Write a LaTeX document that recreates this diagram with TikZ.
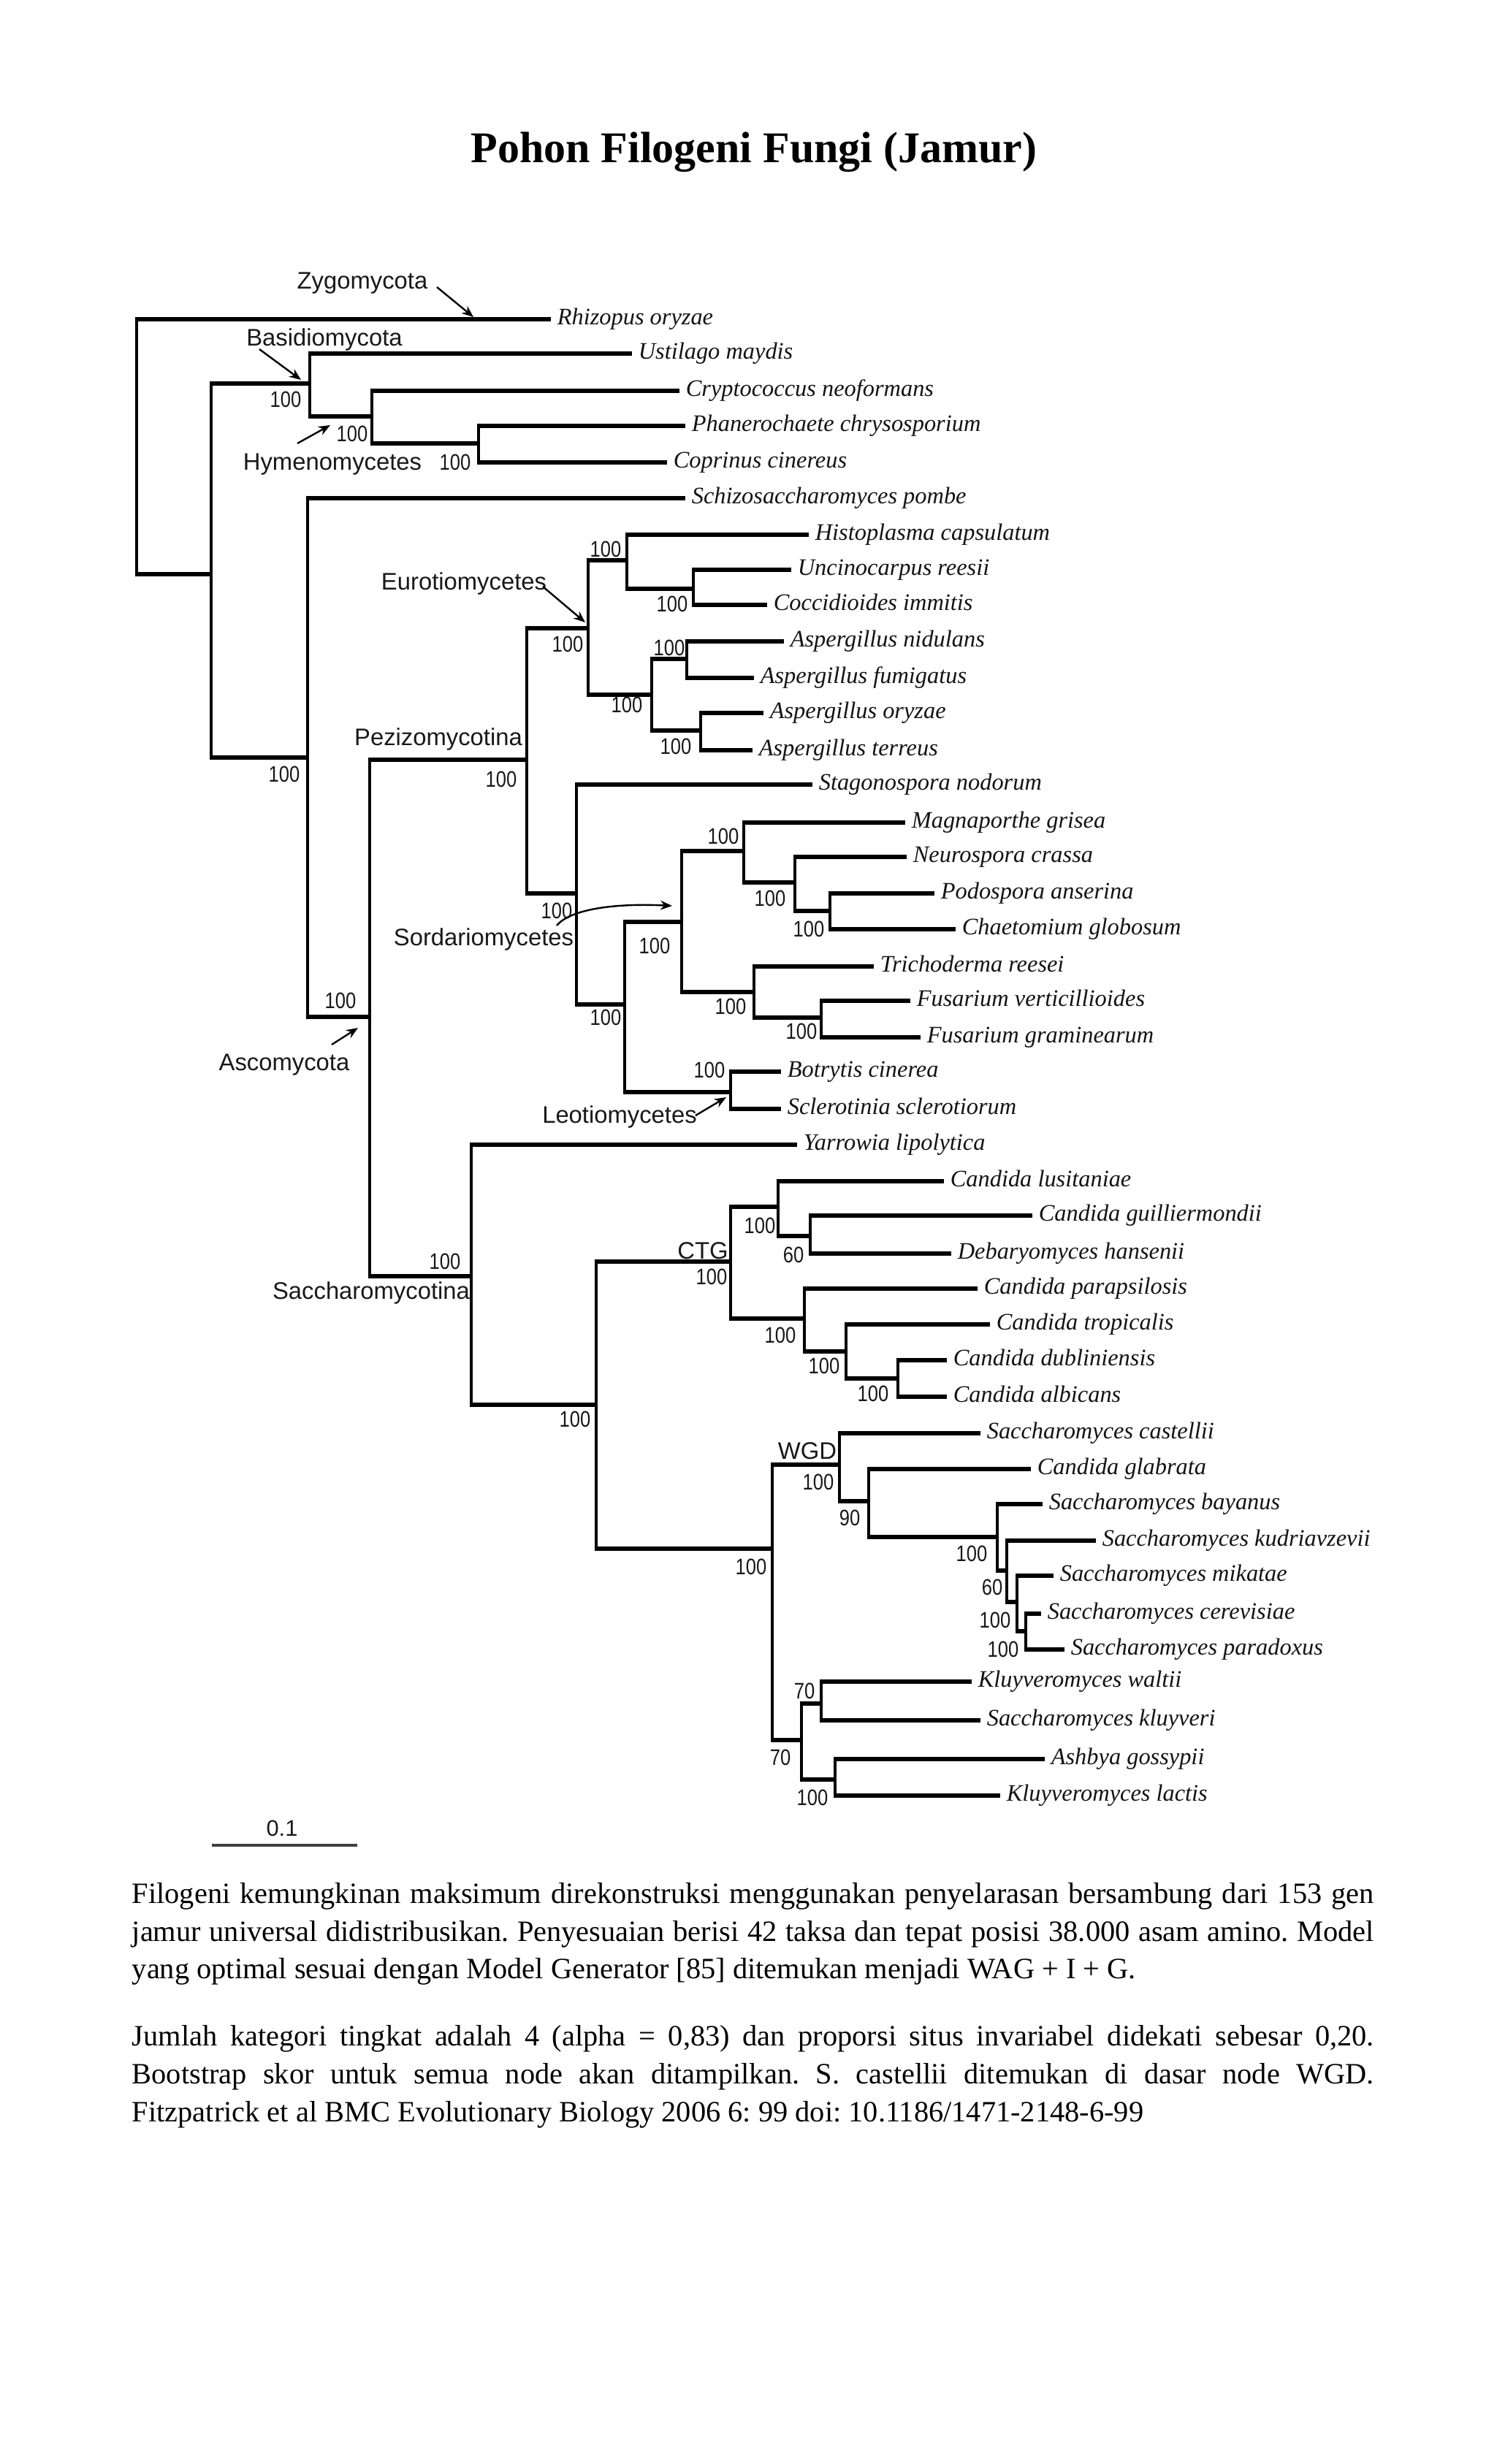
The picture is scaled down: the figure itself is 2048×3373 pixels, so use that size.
\documentclass[tikz,border=0pt]{standalone}
\usepackage{fontspec}
\usepackage{graphicx}
\setmainfont{Liberation Serif}
\setsansfont{Liberation Sans}
\usetikzlibrary{arrows.meta}
\frenchspacing
\newcommand{\bsv}[1]{\scalebox{0.83}[1]{#1}}
\newcommand{\cladeJ}[3]{%
  \draw[vline] (#1 |- #2) -- (#1 |- #3);
  \draw[hline] (#1 |- #2) -- (#2);
  \draw[hline] (#1 |- #3) -- (#3);}
\begin{document}
\begin{tikzpicture}[x=0.25pt,y=-0.25pt,
  hline/.style={line width=1.35pt, shorten <=-0.42pt},
  vline/.style={line width=0.85pt, shorten <=-0.67pt, shorten >=-0.67pt},
  leaf/.style={anchor=west, inner xsep=2pt, inner ysep=0pt, text=black!92,
    font=\fontsize{8.1}{9}\selectfont\itshape, text height=6pt, text depth=2.5pt},
  boot/.style={inner sep=0pt, text=black!90, font=\fontsize{7.7}{8}\selectfont\sffamily},
  clade/.style={inner sep=0pt, anchor=base, text=black!90, font=\fontsize{8.2}{9}\selectfont\sffamily},
  pointer/.style={line width=0.6pt, -{Stealth[length=4pt,width=3.2pt]}},
  captext/.style={anchor=base west, inner sep=0pt, font=\fontsize{10.1}{13}\selectfont},
]
\useasboundingbox (0,0) rectangle (2048,3373);
\fill[white] (0,0) rectangle (2048,3373);

% title
\node[anchor=base, inner sep=0pt, font=\fontsize{15}{18}\selectfont\bfseries] (title) at (1032,222) {Pohon Filogeni Fungi (Jamur)};

% internal nodes
\coordinate (R) at (187,611);
\coordinate (A) at (289,786);
\coordinate (Ba) at (424,525);
\coordinate (Hy) at (509,570);
\coordinate (Hy2) at (655,607);
\coordinate (B) at (421,1037);
\coordinate (C) at (506,1392);
\coordinate (D) at (721,1040);
\coordinate (E) at (805,860);
\coordinate (E1) at (858,767);
\coordinate (E11) at (949,806);
\coordinate (E2) at (892,951);
\coordinate (E21) at (940,902);
\coordinate (E22) at (959,1000);
\coordinate (F) at (789,1223);
\coordinate (G) at (855,1375);
\coordinate (H) at (933,1262);
\coordinate (H1) at (1018,1165);
\coordinate (H11) at (1088,1208);
\coordinate (H111) at (1136,1247);
\coordinate (H2) at (1032,1358);
\coordinate (H21) at (1124,1393);
\coordinate (L) at (1000,1495);
\coordinate (Sa) at (645,1747);
\coordinate (S) at (816,1923);
\coordinate (CTG) at (1000,1727);
\coordinate (C1) at (1065,1652);
\coordinate (C11) at (1109,1692);
\coordinate (C2) at (1101,1805);
\coordinate (C21) at (1158,1850);
\coordinate (C211) at (1229,1887);
\coordinate (W0) at (1057,2120);
\coordinate (WG) at (1149,2005);
\coordinate (W1) at (1189,2055);
\coordinate (W2) at (1365,2104);
\coordinate (W3) at (1378,2150);
\coordinate (W4) at (1392,2193);
\coordinate (W5) at (1404,2233);
\coordinate (K) at (1097,2382);
\coordinate (K1) at (1124,2332);
\coordinate (K2) at (1143,2436);

% leaves
\node[leaf] (lro) at (754,437) {Rhizopus oryzae};
\node[leaf] (lum) at (865,484) {Ustilago maydis};
\node[leaf] (lcn) at (930,535) {Cryptococcus neoformans};
\node[leaf] (lpc) at (938,583) {Phanerochaete chrysosporium};
\node[leaf] (lcc) at (913,633) {Coprinus cinereus};
\node[leaf] (lsp) at (938,682) {Schizosaccharomyces pombe};
\node[leaf] (lhc) at (1107,732) {Histoplasma capsulatum};
\node[leaf] (lur) at (1083,780) {Uncinocarpus reesii};
\node[leaf] (lci) at (1050,828) {Coccidioides immitis};
\node[leaf] (lan) at (1073,878) {Aspergillus nidulans};
\node[leaf] (laf) at (1032,928) {Aspergillus fumigatus};
\node[leaf] (lao) at (1045,976) {Aspergillus oryzae};
\node[leaf] (lat) at (1030,1027) {Aspergillus terreus};
\node[leaf] (lsn) at (1112,1074) {Stagonospora nodorum};
\node[leaf] (lmg) at (1239,1126) {Magnaporthe grisea};
\node[leaf] (lnc) at (1241,1173) {Neurospora crassa};
\node[leaf] (lpa) at (1279,1223) {Podospora anserina};
\node[leaf] (lcg) at (1308,1272) {Chaetomium globosum};
\node[leaf] (ltr) at (1196,1323) {Trichoderma reesei};
\node[leaf] (lfv) at (1246,1370) {Fusarium verticillioides};
\node[leaf] (lfg) at (1260,1420) {Fusarium graminearum};
\node[leaf] (lbc) at (1069,1467) {Botrytis cinerea};
\node[leaf] (lss) at (1069,1518) {Sclerotinia sclerotiorum};
\node[leaf] (lyl) at (1091,1567) {Yarrowia lipolytica};
\node[leaf] (lcl) at (1292,1617) {Candida lusitaniae};
\node[leaf] (lcgu) at (1413,1664) {Candida guilliermondii};
\node[leaf] (ldh) at (1302,1716) {Debaryomyces hansenii};
\node[leaf] (lcp) at (1338,1764) {Candida parapsilosis};
\node[leaf] (lct) at (1355,1813) {Candida tropicalis};
\node[leaf] (lcd) at (1296,1862) {Candida dubliniensis};
\node[leaf] (lca) at (1296,1912) {Candida albicans};
\node[leaf] (lsc) at (1342,1962) {Saccharomyces castellii};
\node[leaf] (lcgl) at (1411,2011) {Candida glabrata};
\node[leaf] (lsb) at (1427,2059) {Saccharomyces bayanus};
\node[leaf] (lsk) at (1500,2109) {Saccharomyces kudriavzevii};
\node[leaf] (lsm) at (1442,2157) {Saccharomyces mikatae};
\node[leaf] (lsce) at (1425,2209) {Saccharomyces cerevisiae};
\node[leaf] (lspa) at (1457,2258) {Saccharomyces paradoxus};
\node[leaf] (lkw) at (1330,2302) {Kluyveromyces waltii};
\node[leaf] (lskl) at (1342,2355) {Saccharomyces kluyveri};
\node[leaf] (lag) at (1430,2408) {Ashbya gossypii};
\node[leaf] (lkl) at (1369,2458) {Kluyveromyces lactis};

% branches
\cladeJ{R}{lro.west}{A}
\cladeJ{A}{Ba}{B}
\cladeJ{Ba}{lum.west}{Hy}
\cladeJ{Hy}{lcn.west}{Hy2}
\cladeJ{Hy2}{lpc.west}{lcc.west}
\cladeJ{B}{lsp.west}{C}
\cladeJ{C}{D}{Sa}
\cladeJ{D}{E}{F}
\cladeJ{E}{E1}{E2}
\cladeJ{E1}{lhc.west}{E11}
\cladeJ{E11}{lur.west}{lci.west}
\cladeJ{E2}{E21}{E22}
\cladeJ{E21}{lan.west}{laf.west}
\cladeJ{E22}{lao.west}{lat.west}
\cladeJ{F}{lsn.west}{G}
\cladeJ{G}{H}{L}
\cladeJ{H}{H1}{H2}
\cladeJ{H1}{lmg.west}{H11}
\cladeJ{H11}{lnc.west}{H111}
\cladeJ{H111}{lpa.west}{lcg.west}
\cladeJ{H2}{ltr.west}{H21}
\cladeJ{H21}{lfv.west}{lfg.west}
\cladeJ{L}{lbc.west}{lss.west}
\cladeJ{Sa}{lyl.west}{S}
\cladeJ{S}{CTG}{W0}
\cladeJ{CTG}{C1}{C2}
\cladeJ{C1}{lcl.west}{C11}
\cladeJ{C11}{lcgu.west}{ldh.west}
\cladeJ{C2}{lcp.west}{C21}
\cladeJ{C21}{lct.west}{C211}
\cladeJ{C211}{lcd.west}{lca.west}
\cladeJ{W0}{WG}{K}
\cladeJ{WG}{lsc.west}{W1}
\cladeJ{W1}{lcgl.west}{W2}
\cladeJ{W2}{lsb.west}{W3}
\cladeJ{W3}{lsk.west}{W4}
\cladeJ{W4}{lsm.west}{W5}
\cladeJ{W5}{lsce.west}{lspa.west}
\cladeJ{K}{K1}{K2}
\cladeJ{K1}{lkw.west}{lskl.west}
\cladeJ{K2}{lag.west}{lkl.west}

% bootstrap values
\node[boot] (b1) at (391,547) {\bsv{100}};
\node[boot] (b2) at (482,594) {\bsv{100}};
\node[boot] (b3) at (623,633) {\bsv{100}};
\node[boot] (b4) at (389,1060) {\bsv{100}};
\node[boot] (b5) at (466,1370) {\bsv{100}};
\node[boot] (b6) at (686,1067) {\bsv{100}};
\node[boot] (b7) at (777,882) {\bsv{100}};
\node[boot] (b8) at (829,752) {\bsv{100}};
\node[boot] (b9) at (920,827) {\bsv{100}};
\node[boot] (b10) at (858,965) {\bsv{100}};
\node[boot] (b11) at (916,887) {\bsv{100}};
\node[boot] (b12) at (925,1022) {\bsv{100}};
\node[boot] (b13) at (762,1247) {\bsv{100}};
\node[boot] (b14) at (829,1393) {\bsv{100}};
\node[boot] (b15) at (896,1295) {\bsv{100}};
\node[boot] (b16) at (990,1145) {\bsv{100}};
\node[boot] (b17) at (1054,1230) {\bsv{100}};
\node[boot] (b18) at (1107,1272) {\bsv{100}};
\node[boot] (b19) at (1000,1378) {\bsv{100}};
\node[boot] (b20) at (1097,1412) {\bsv{100}};
\node[boot] (b21) at (971,1465) {\bsv{100}};
\node[boot] (b22) at (609,1727) {\bsv{100}};
\node[boot] (b23) at (787,1943) {\bsv{100}};
\node[boot] (b24) at (974,1748) {\bsv{100}};
\node[boot] (b25) at (1040,1678) {\bsv{100}};
\node[boot] (b26) at (1086,1718) {\bsv{60}};
\node[boot] (b27) at (1068,1828) {\bsv{100}};
\node[boot] (b28) at (1128,1870) {\bsv{100}};
\node[boot] (b29) at (1195,1908) {\bsv{100}};
\node[boot] (b30) at (1120,2029) {\bsv{100}};
\node[boot] (b31) at (1163,2078) {\bsv{90}};
\node[boot] (b32) at (1330,2127) {\bsv{100}};
\node[boot] (b33) at (1358,2173) {\bsv{60}};
\node[boot] (b34) at (1362,2218) {\bsv{100}};
\node[boot] (b35) at (1373,2258) {\bsv{100}};
\node[boot] (b36) at (1028,2145) {\bsv{100}};
\node[boot] (b37) at (1068,2406) {\bsv{70}};
\node[boot] (b38) at (1101,2315) {\bsv{70}};
\node[boot] (b39) at (1112,2461) {\bsv{100}};

% clade labels
\node[clade] (tZyg) at (496,395) {Zygomycota};
\node[clade] (tBas) at (444,473) {Basidiomycota};
\node[clade] (tHym) at (455,643) {Hymenomycetes};
\node[clade] (tEur) at (635,807) {Eurotiomycetes};
\node[clade] (tPez) at (600,1020) {Pezizomycotina};
\node[clade] (tSor) at (662,1294) {Sordariomycetes};
\node[clade] (tAsc) at (389,1465) {Ascomycota};
\node[clade] (tLeo) at (848,1537) {Leotiomycetes};
\node[clade] (tSac) at (508,1778) {Saccharomycotina};
\node[clade] (tCTG) at (962,1723) {CTG};
\node[clade] (tWGD) at (1105,1997) {WGD};

% pointer arrows
\coordinate (aZ1) at (598,393); \coordinate (aZ2) at (648,434);
\coordinate (aB1) at (355,478); \coordinate (aB2) at (412,520);
\coordinate (aH1) at (407,607); \coordinate (aH2) at (452,582);
\coordinate (aE1) at (743,803); \coordinate (aE2) at (801,852);
\coordinate (aS1) at (762,1267); \coordinate (aS2) at (920,1240);
\coordinate (aA1) at (454,1430); \coordinate (aA2) at (490,1407);
\coordinate (aL1) at (952,1527); \coordinate (aL2) at (994,1502);
\draw[pointer] (aZ1) -- (aZ2);
\draw[pointer] (aB1) -- (aB2);
\draw[pointer] (aH1) -- (aH2);
\draw[pointer] (aE1) -- (aE2);
\draw[pointer] (aS1) .. controls (780,1245) and (840,1236) .. (aS2);
\draw[pointer] (aA1) -- (aA2);
\draw[pointer] (aL1) -- (aL2);

% scale bar
\node[boot] (sbt) at (386,2503) {0.1};
\coordinate (sb1) at (290,2526); \coordinate (sb2) at (489,2526);
\draw[line width=0.8pt, black!75] (sb1) -- (sb2);

% caption
\node[captext] (cap1) at (180,2605) {\makebox[425pt][s]{Filogeni kemungkinan maksimum direkonstruksi menggunakan penyelarasan bersambung dari 153 gen}};
\node[captext] (cap2) at (180,2657) {\makebox[425pt][s]{jamur universal didistribusikan. Penyesuaian berisi 42 taksa dan tepat posisi 38.000 asam amino. Model}};
\node[captext] (cap3) at (180,2708) {yang optimal sesuai dengan Model Generator [85] ditemukan menjadi WAG + I + G.};
\node[captext] (cap4) at (180,2800) {\makebox[425pt][s]{Jumlah kategori tingkat adalah 4 (alpha = 0,83) dan proporsi situs invariabel didekati sebesar 0,20.}};
\node[captext] (cap5) at (180,2852) {\makebox[425pt][s]{Bootstrap skor untuk semua node akan ditampilkan. S. castellii ditemukan di dasar node WGD.}};
\node[captext] (cap6) at (180,2904) {Fitzpatrick et al BMC Evolutionary Biology 2006 6: 99 doi: 10.1186/1471-2148-6-99};
\end{tikzpicture}
\end{document}
